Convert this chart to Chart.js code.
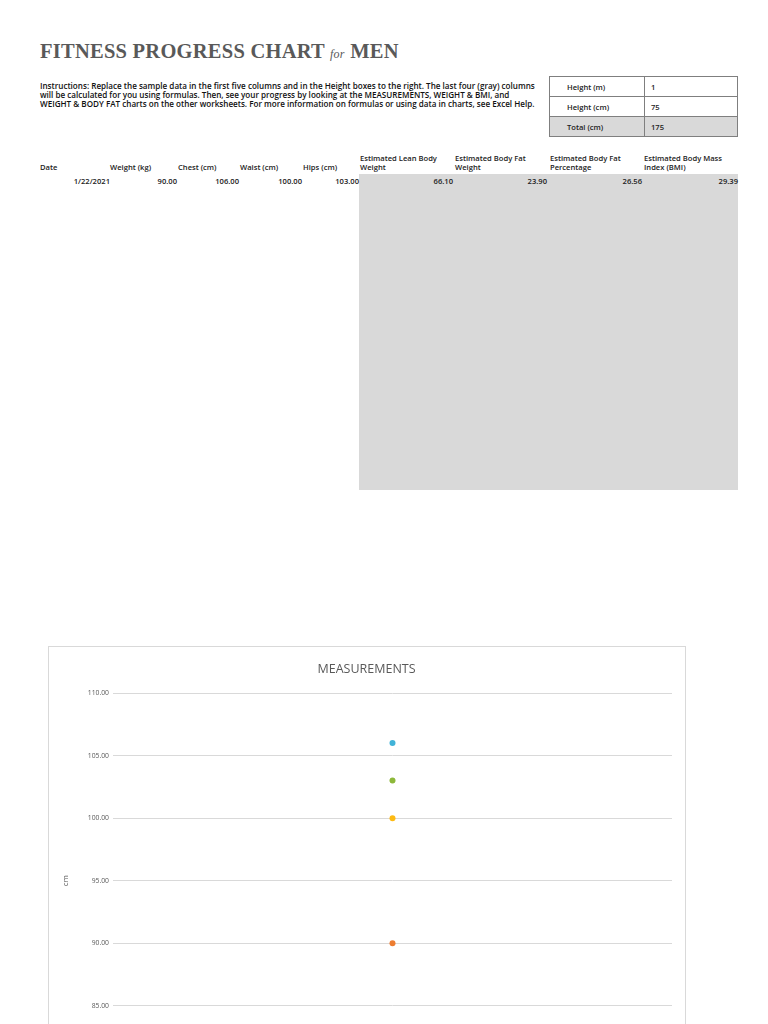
<!DOCTYPE html>
<html>
<head>
<meta charset="utf-8">
<script src="https://cdn.jsdelivr.net/npm/chart.js@4/dist/chart.umd.min.js"></script>
<style>
  html, body { margin: 0; padding: 0; background: #fff; }
  body { width: 768px; height: 1024px; overflow: hidden; position: relative; font-family: "Open Sans", sans-serif; color: #222; }
  .abs { position: absolute; white-space: nowrap; }
  #title { left: 40px; top: 40px; font-family: "Liberation Serif", "DejaVu Serif", serif; font-weight: bold; font-size: 20.5px; color: #595959; letter-spacing: 0.25px; }
  #title i { font-weight: normal; font-size: 12px; }
  .instr { left: 40px; font-size: 8.1px; font-weight: 600; color: #111; }
  #htable { left: 549px; top: 76px; width: 189px; border-collapse: collapse; font-size: 7.6px; font-weight: 600; }
  #htable td { border: 1px solid #7f7f7f; height: 19px; padding: 0 0 0 17px; }
  #htable td + td { padding-left: 6px; }
  #htable tr.tot td { background: #d9d9d9; }
  .hdr { font-size: 7.6px; font-weight: 600; line-height: 9px; }
  .cell { font-size: 7.6px; font-weight: 600; text-align: right; }
  #grey { left: 359px; top: 174px; width: 379px; height: 316px; background: #d9d9d9; }
  #chartBox { position: absolute; left: 48px; top: 646px; width: 636px; height: 480px; border: 1px solid #d9d9d9; }
</style>
</head>
<body>
<div id="title" class="abs">FITNESS PROGRESS CHART <i>for</i> MEN</div>
<div class="abs instr" style="top:80px">Instructions: Replace the sample data in the first five columns and in the Height boxes to the right. The last four (gray) columns</div>
<div class="abs instr" style="top:89px">will be calculated for you using formulas. Then, see your progress by looking at the MEASUREMENTS, WEIGHT &amp; BMI, and</div>
<div class="abs instr" style="top:98px">WEIGHT &amp; BODY FAT charts on the other worksheets. For more information on formulas or using data in charts, see Excel Help.</div>
<table id="htable" class="abs"></table>
<div id="grey" class="abs"></div>
<div id="sheet"></div>
<div id="chartBox"><canvas id="measurements-chart"></canvas></div>
<script>
  // sheet data
  const dates = ['1/22/2021'];
  const weightKg = [90.00];
  const chestCm = [106.00];
  const waistCm = [100.00];
  const hipsCm = [103.00];
  const leanBodyWeight = [66.10];
  const bodyFatWeight = [23.90];
  const bodyFatPct = [26.56];
  const bmi = [29.39];

  const heightLabels = ['Height (m)', 'Height (cm)', 'Total (cm)'];
  const heightValues = [1, 75, 175];

  const columnHeaders = ['Date', 'Weight (kg)', 'Chest (cm)', 'Waist (cm)', 'Hips (cm)',
    'Estimated Lean Body<br>Weight', 'Estimated Body Fat<br>Weight',
    'Estimated Body Fat<br>Percentage', 'Estimated Body Mass<br>Index (BMI)'];

  // chart axis
  const yMin = 80;
  const yMax = 110;
  const yStep = 5;

  (function () {
    'use strict';

    // height box on the right
    const ht = document.getElementById('htable');
    heightLabels.forEach((lbl, i) => {
      const tr = document.createElement('tr');
      if (i === heightLabels.length - 1) tr.className = 'tot';
      tr.innerHTML = `<td style="width:77px">${lbl}</td><td>${heightValues[i]}</td>`;
      ht.appendChild(tr);
    });

    // column headers + data rows
    const sheet = document.getElementById('sheet');
    const hdrLeft = [40, 110, 178, 240, 303, 360, 455, 550, 644];
    const colRight = [110, 177, 239, 302, 359, 453, 547, 642, 738];
    columnHeaders.forEach((h, i) => {
      const d = document.createElement('div');
      d.className = 'abs hdr';
      const twoLine = h.indexOf('<br>') > -1;
      d.style.left = hdrLeft[i] + 'px';
      d.style.top = (twoLine ? 154 : 163) + 'px';
      d.innerHTML = h;
      sheet.appendChild(d);
    });
    dates.forEach((dt, r) => {
      const row = [dt, weightKg[r], chestCm[r], waistCm[r], hipsCm[r],
        leanBodyWeight[r], bodyFatWeight[r], bodyFatPct[r], bmi[r]];
      row.forEach((v, i) => {
        const d = document.createElement('div');
        d.className = 'abs cell';
        d.style.right = (768 - colRight[i]) + 'px';
        d.style.top = (176 + r * 12) + 'px';
        d.textContent = typeof v === 'number' ? v.toFixed(2) : v;
        sheet.appendChild(d);
      });
    });

    // MEASUREMENTS chart
    const ctx = document.getElementById('measurements-chart');
    const mk = (label, data, color) => ({
      label: label,
      data: data,
      showLine: false,
      borderColor: color,
      backgroundColor: color,
      pointRadius: 3,
      pointBorderWidth: 0,
      pointStyle: 'circle'
    });

    new Chart(ctx, {
      type: 'line',
      data: {
        labels: dates,
        datasets: [
          mk('Weight (kg)', weightKg, '#ED7D31'),
          mk('Chest (cm)', chestCm, '#41B3D8'),
          mk('Waist (cm)', waistCm, '#FDBA13'),
          mk('Hips (cm)', hipsCm, '#8DB83A')
        ]
      },
      options: {
        responsive: true,
        maintainAspectRatio: false,
        animation: false,
        layout: { padding: { left: 12, right: 13, bottom: 7 } },
        scales: {
          x: {
            offset: true,
            grid: { display: false, offset: true },
            border: { display: false },
            ticks: { color: '#595959', font: { family: 'Open Sans', size: 8 } }
          },
          y: {
            min: yMin,
            max: yMax,
            border: { display: false },
            grid: { color: '#d9d9d9', drawTicks: false },
            afterFit: function (scale) { scale.width = 52; },
            ticks: {
              stepSize: yStep,
              padding: 4,
              color: '#595959',
              font: { family: 'Open Sans', size: 6.8 },
              callback: v => Number(v).toFixed(2)
            },
            title: {
              display: true,
              text: 'cm',
              color: '#595959',
              font: { family: 'Open Sans', size: 8 },
              padding: 0
            }
          }
        },
        plugins: {
          title: {
            display: true,
            text: 'MEASUREMENTS',
            color: '#595959',
            font: { family: 'Open Sans', size: 12.5, weight: 'normal' },
            padding: { top: 15, bottom: 16 }
          },
          legend: {
            display: true,
            position: 'bottom',
            labels: { boxWidth: 6, boxHeight: 6, usePointStyle: true, color: '#595959', font: { size: 8 } }
          },
          tooltip: { enabled: false }
        }
      }
    });
  })();
</script>
</body>
</html>
